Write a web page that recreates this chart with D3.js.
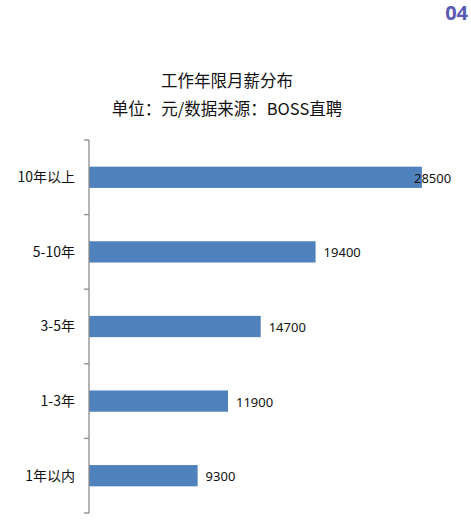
<!DOCTYPE html>
<html><head><meta charset="utf-8">
<script src="https://cdn.jsdelivr.net/npm/d3@7"></script>
<style>body{margin:0;background:#fff;}svg{display:block;}</style>
</head><body>
<script>
const categories = ["10年以上", "5-10年", "3-5年", "1-3年", "1年以内"];
const salaries = [28500, 19400, 14700, 11900, 9300];
const xDomainMax = 30000;
const titleText = "工作年限月薪分布";
const subtitleText = "单位：元/数据来源：BOSS直聘";
const pageNumber = "04";

const W = 471, H = 528;
const svg = d3.select("body").append("svg").attr("width", W).attr("height", H);
const font = "'Noto Sans CJK SC','Noto Sans',sans-serif";

svg.append("text").attr("x", 468).attr("y", 20).attr("text-anchor", "end")
  .attr("font-family", "'Open Sans','Noto Sans',sans-serif").attr("font-weight", "bold")
  .attr("font-size", 20).attr("fill", "#5a5ab4").text(pageNumber);

svg.append("text").attr("x", 227).attr("y", 87).attr("text-anchor", "middle")
  .attr("font-family", font).attr("font-size", 16.5).attr("fill", "#111").text(titleText);
svg.append("text").attr("x", 227).attr("y", 115).attr("text-anchor", "middle")
  .attr("font-family", font).attr("font-size", 16.5).attr("fill", "#111").text(subtitleText);

const x = d3.scaleLinear().domain([0, xDomainMax]).range([89, 439.4]);
const y = d3.scaleBand().domain(categories).range([140, 513]).paddingInner(0.715).paddingOuter(0.3575);
const step = y.step();

const data = categories.map((c, i) => ({c, v: salaries[i]}));

svg.selectAll("rect.bar").data(data).enter().append("rect").attr("class", "bar")
  .attr("x", x(0)).attr("y", d => y(d.c)).attr("width", d => x(d.v) - x(0))
  .attr("height", y.bandwidth()).attr("fill", "#4f81bd");

// axis
const ax = svg.append("g").attr("stroke", "#8c8c8c").attr("stroke-width", 1.3);
ax.append("line").attr("x1", x(0)).attr("x2", x(0)).attr("y1", 140).attr("y2", 513);
d3.range(categories.length + 1).forEach(i => {
  const yy = 140 + i * step;
  ax.append("line").attr("x1", x(0) - 5).attr("x2", x(0)).attr("y1", yy).attr("y2", yy);
});

svg.selectAll("text.cat").data(data).enter().append("text").attr("class", "cat")
  .attr("x", 75).attr("y", d => y(d.c) + y.bandwidth() / 2).attr("dy", "0.35em")
  .attr("text-anchor", "end").attr("font-family", font).attr("font-size", 14)
  .attr("fill", "#111").text(d => d.c);

svg.selectAll("text.val").data(data).enter().append("text").attr("class", "val")
  .attr("x", d => Math.min(x(d.v) + 8, 414)).attr("y", d => y(d.c) + y.bandwidth() / 2 + 1).attr("dy", "0.35em")
  .attr("font-family", "'Noto Sans',sans-serif").attr("font-size", 13)
  .attr("fill", "#111").text(d => d.v);
</script>
</body></html>
